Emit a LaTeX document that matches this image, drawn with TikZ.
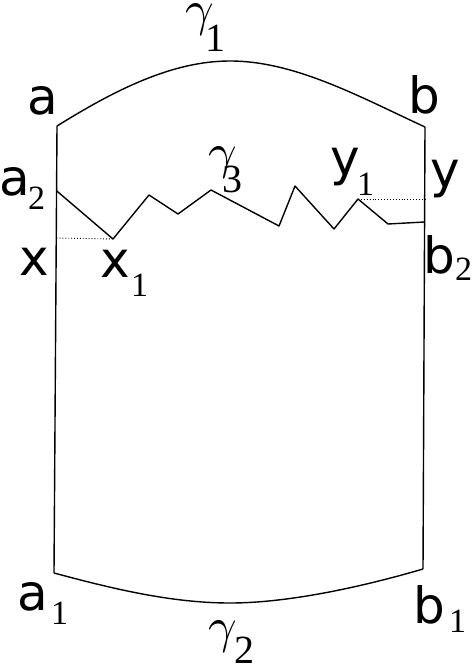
\documentclass[tikz,border=0pt]{standalone}
\usepackage{graphicx}
\usepackage{fontspec}
\setmainfont{Liberation Serif}
\newfontfamily\labfont{DejaVu Sans}
\newcommand{\biggam}{\scalebox{5}{$\gamma$}}
\tikzset{
  edge/.style={line width=1.4pt, line join=round},
  dotline/.style={line width=0.9pt, dotted},
  lbl/.style={anchor=base west, inner sep=0pt, font=\labfont\fontsize{50}{60}\selectfont},
  sub/.style={anchor=base west, inner sep=0pt, font=\fontsize{34}{40}\selectfont},
  gam/.style={anchor=base west, inner sep=0pt, font=\normalsize},
  gsub/.style={anchor=base west, inner sep=0pt, font=\fontsize{40}{48}\selectfont},
}
\begin{document}
\begin{tikzpicture}[x=1pt,y=-1pt]
\useasboundingbox (0,0) rectangle (474,668);
% corners
\coordinate (a) at (57,126);
\coordinate (b) at (425,127);
\coordinate (a1) at (54,573);
\coordinate (b1) at (423,569);
\coordinate (t) at (230,61);
\coordinate (m) at (230,603);
\coordinate (a2) at (56.8,191);
\coordinate (b2) at (424.5,222);
\coordinate (x) at (56.7,238);
\coordinate (x1) at (113,239);
\coordinate (y1) at (358,199);
\coordinate (y) at (424.8,199);
% sides
\draw[edge] (a) -- (a1);
\draw[edge] (b) -- (b1);
% gamma1
\draw[edge] (a) .. controls (115,90) and (172,61) .. (t) .. controls (295,61) and (360,97) .. (b);
% gamma2
\draw[edge] (a1) .. controls (110,588) and (170,603) .. (m) .. controls (290,603) and (365,586) .. (b1);
% gamma3 zigzag
\draw[edge] (a2) -- (x1) -- (149,195) -- (178,214) -- (211,190) -- (279,226) -- (295,186) -- (334,229) -- (y1) -- (388,224) -- (b2);
% dotted
\draw[dotline] (x) -- (x1);
\draw[dotline] (y1) -- (y);
% labels
\node[lbl] (la) at (27,115) {a};
\node[lbl] (lb) at (408,114) {b};
\node[lbl] (la2) at (-1,196) {a};
\node[sub] (la2s) at (28,210) {2};
\node[lbl] (lx) at (19,275) {x};
\node[lbl] (lx1) at (100,277) {x};
\node[sub] (lx1s) at (131,296) {1};
\node[lbl] (ly1) at (330,176) {y};
\node[sub] (ly1s) at (357,196) {1};
\node[lbl] (ly) at (430,188) {y};
\node[lbl] (lb2) at (423,273) {b};
\node[sub] (lb2s) at (455,280) {2};
\node[lbl] (la1) at (17,610) {a};
\node[sub] (la1s) at (51,624) {1};
\node[lbl] (lb1) at (413,623) {b};
\node[sub] (lb1s) at (449,632) {1};
\node[gam] (g1) at (185,26) {\biggam};
\node[gsub] (g1s) at (205,52) {1};
\node[gam] (g3) at (208,169) {\biggam};
\node[gsub] (g3s) at (222,193) {3};
\node[gam] (g2) at (208,642) {\biggam};
\node[gsub] (g2s) at (234,663) {2};
\end{tikzpicture}
\end{document}
